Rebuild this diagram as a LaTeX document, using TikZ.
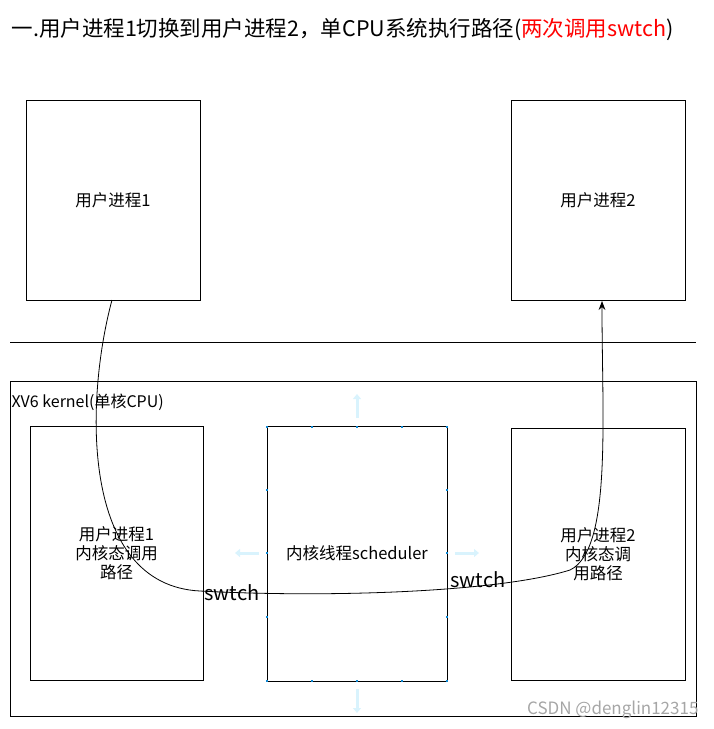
\documentclass[tikz,border=0pt]{standalone}
\usepackage{fontspec}
\setmainfont{Noto Sans CJK SC}
\usetikzlibrary{arrows.meta}
\begin{document}
\begin{tikzpicture}
[x=1pt,y=-1pt
,box/.style={draw,thick,align=center,font=\fontsize{16.5}{19}\selectfont}
,hd/.style={draw=cyan!15,line width=3pt,arrows={-Triangle[length=5pt,width=8pt]}}
,mk/.style={fill=cyan!70!blue,inner sep=1pt}
,sw/.style={font=\fontsize{20}{23}\selectfont}]
\useasboundingbox (0,0) rectangle (714,729);
\node[anchor=west,font=\fontsize{21.5}{25}\selectfont] (title) at (8,30) {一.用户进程1切换到用户进程2，单CPU系统执行路径(\textcolor{red}{两次调用swtch})};
\node[box,minimum width=174,minimum height=200] (p1) at (113,200) {用户进程1};
\node[box,minimum width=174,minimum height=200] (p2) at (598,200) {用户进程2};
\draw[thick] (10,342) -- (696,342);
\draw[thick] (10,381) rectangle (696,716);
\node[anchor=west,font=\fontsize{16}{19}\selectfont] (kern) at (8,402) {XV6 kernel(单核CPU)};
\node[box,minimum width=173,minimum height=254] (k1) at (116.5,553) {用户进程1\\内核态调用\\路径};
\node[box,minimum width=180,minimum height=255] (sch) at (357,553.5) {内核线程scheduler};
\node[box,minimum width=174,minimum height=252] (k2) at (598,554) {用户进程2\\内核态调\\用路径};
% selection handles
\draw[hd] (357,418) -- (357,394);
\draw[hd] (357,689) -- (357,713);
\draw[hd] (259,553) -- (235,553);
\draw[hd] (455,553) -- (479,553);
\foreach \x in {267,312,357,402,447} {\node[mk] at (\x,426.5) {}; \node[mk] at (\x,681) {};}
\foreach \y in {490,553,617} {\node[mk] at (267,\y) {}; \node[mk] at (447,\y) {};}
% path
\coordinate (s) at (112,300);
\coordinate (e) at (602,301);
\draw[thick,arrows={-Stealth[length=9pt]}] (s) .. controls (85,400) and (80,585) .. (200,591)
  .. controls (330,598) and (500,592) .. (570,570)
  .. controls (612,550) and (602,420) .. (e);
\node[sw] (sw1) at (232,593) {swtch};
\node[sw] (sw2) at (478,580) {swtch};
\node[anchor=east,text=gray!70,font=\fontsize{17}{20}\selectfont] (wm) at (702,710) {CSDN @denglin12315};
\end{tikzpicture}
\end{document}
